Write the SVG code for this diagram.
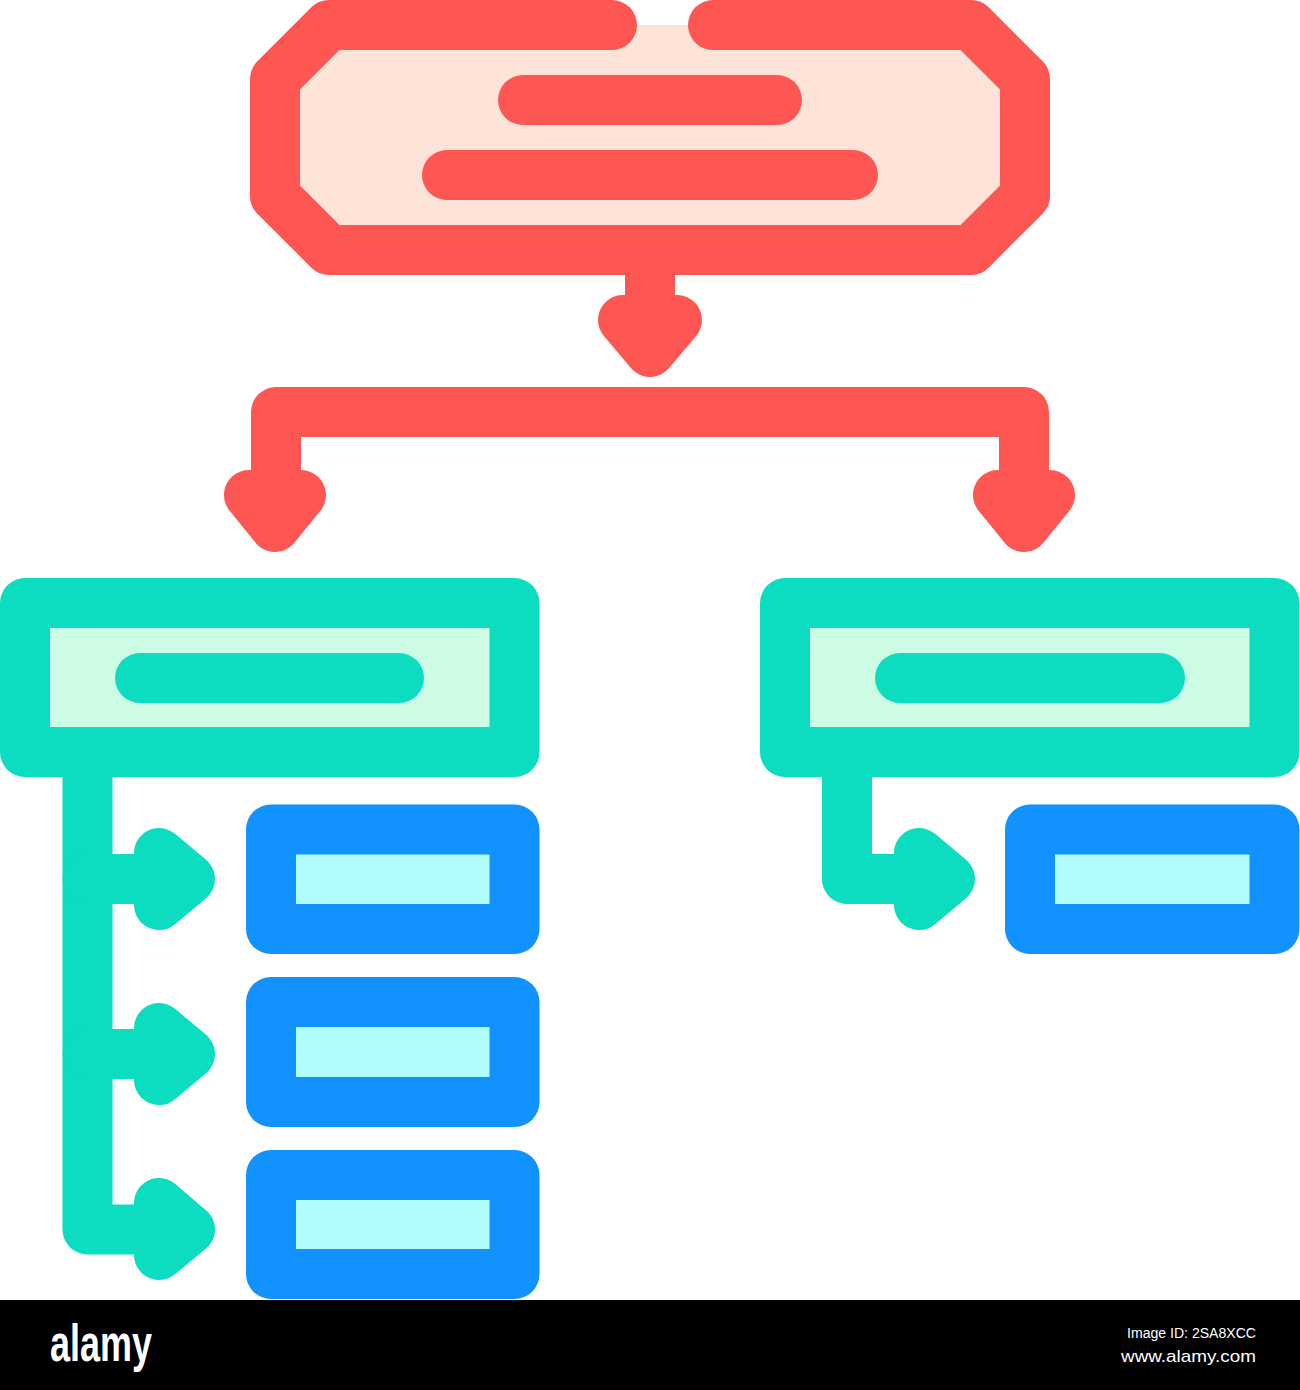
<svg xmlns="http://www.w3.org/2000/svg" width="1300" height="1390" viewBox="0 0 1300 1390">
<style>
.red{stroke:#fe5652;stroke-width:50;fill:none;stroke-linecap:round;stroke-linejoin:round}
.redf{fill:#fe5652;stroke:#fe5652;stroke-width:50;stroke-linejoin:round}
.grn{stroke:#0cdcbf;stroke-width:50;fill:none;stroke-linecap:round;stroke-linejoin:round}
.grnf{fill:#0cdcbf;stroke:#0cdcbf;stroke-width:50;stroke-linejoin:round}
.gbox{fill:#ccfde4;stroke:#0cdcbf;stroke-width:50;stroke-linejoin:round}
.bbox{fill:#b0fefc;stroke:#1192fe;stroke-width:50;stroke-linejoin:round}
.wm{fill:#ffffff;font-family:"Liberation Sans",Arial,sans-serif}
</style>
<rect width="1300" height="1390" fill="#ffffff"/>
<g id="top-node">
<path d="M612,25 H329 L275,79 V196 L329,250 H971 L1025,196 V79 L971,25 H713 Z" fill="#fde3d8" stroke="none"/>
<path class="red" d="M612,25 H329 L275,79 V196 L329,250 H971 L1025,196 V79 L971,25 H713"/>
<line class="red" x1="523" y1="100" x2="777" y2="100"/>
<line class="red" x1="447" y1="175" x2="853" y2="175"/>
</g>
<g id="connectors">
<line class="red" x1="650" y1="250" x2="650" y2="320" stroke-linecap="butt"/>
<polygon class="redf" points="623,320 677,320 650,352"/>
<path class="red" d="M276,490 V412 H1024 V490" stroke-linecap="butt"/>
<polygon class="redf" points="249,495 301,495 275,527"/>
<polygon class="redf" points="998,495 1050,495 1024,527"/>
<path class="grn" d="M87.5,760 V1229.5 H165" stroke-linecap="butt"/>
<line class="grn" x1="87.5" y1="879" x2="165" y2="879" stroke-linecap="butt"/>
<line class="grn" x1="87.5" y1="1054" x2="165" y2="1054" stroke-linecap="butt"/>
<polygon class="grnf" points="159,853 159,905 190,879"/>
<polygon class="grnf" points="159,1028 159,1080 190,1054"/>
<polygon class="grnf" points="159,1203 159,1255 190,1229.5"/>
<path class="grn" d="M847,760 V879 H920" stroke-linecap="butt"/>
<polygon class="grnf" points="919,853 919,905 950,879"/>
</g>
<g id="left-node">
<rect class="gbox" x="25" y="603" width="489.5" height="149"/>
<line class="grn" x1="140" y1="678" x2="399" y2="678"/>
</g>
<g id="right-node">
<rect class="gbox" x="785" y="603" width="489.5" height="149"/>
<line class="grn" x1="900" y1="678" x2="1160" y2="678"/>
</g>
<g id="left-child-1"><rect class="bbox" x="271" y="829.5" width="243.5" height="99.5"/></g>
<g id="left-child-2"><rect class="bbox" x="271" y="1002" width="243.5" height="100"/></g>
<g id="left-child-3"><rect class="bbox" x="271" y="1175" width="243.5" height="99"/></g>
<g id="right-child-1"><rect class="bbox" x="1030" y="829.5" width="244.5" height="99.5"/></g>
<g id="footer">
<rect x="0" y="1300" width="1300" height="90" fill="#000000"/>
<text class="wm" x="50" y="1361" font-size="52" font-weight="bold" textLength="102" lengthAdjust="spacingAndGlyphs">alamy</text>
<text class="wm" x="1256" y="1338" font-size="14" text-anchor="end" textLength="129" lengthAdjust="spacingAndGlyphs">Image ID: 2SA8XCC</text>
<text class="wm" x="1256" y="1362" font-size="17" text-anchor="end" textLength="135" lengthAdjust="spacingAndGlyphs">www.alamy.com</text>
</g>
</svg>
